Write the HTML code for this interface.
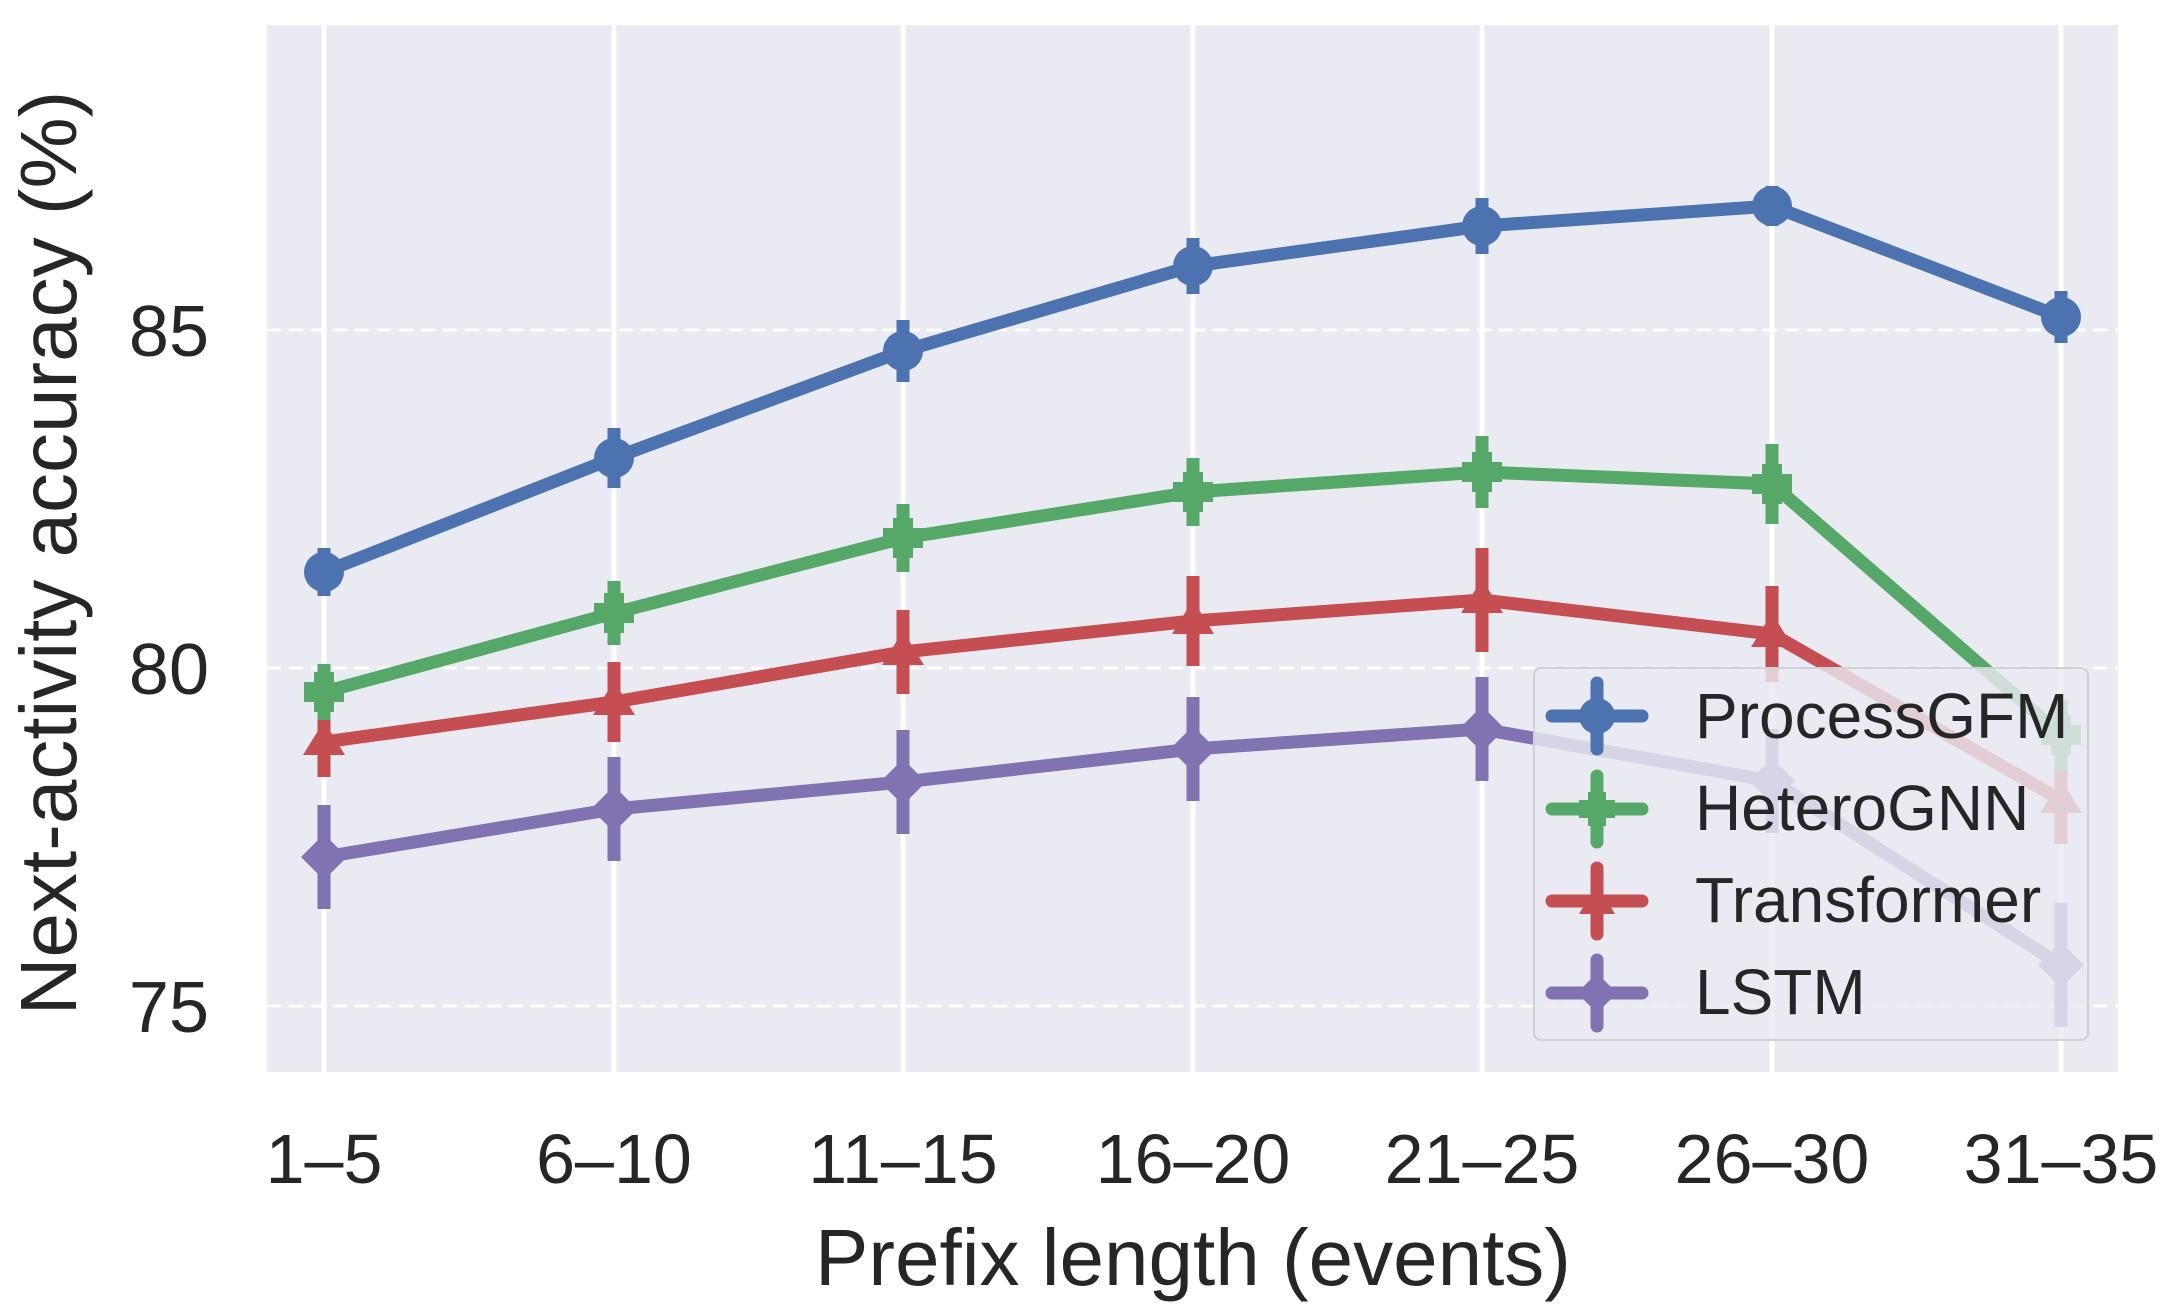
<!DOCTYPE html>
<html><head><meta charset="utf-8"><style>
html,body{margin:0;padding:0;background:#fff;}
svg{display:block;font-family:"Liberation Sans",Arial,sans-serif;}
</style></head><body>
<svg width="2171" height="1310" viewBox="0 0 2171 1310" xmlns="http://www.w3.org/2000/svg">
<rect x="267" y="25" width="1851" height="1047" fill="#eaeaf2"/>
<g stroke="#fff" stroke-width="5">
<line x1="324" y1="25" x2="324" y2="1072"/><line x1="614" y1="25" x2="614" y2="1072"/>
<line x1="903" y1="25" x2="903" y2="1072"/><line x1="1193" y1="25" x2="1193" y2="1072"/>
<line x1="1482" y1="25" x2="1482" y2="1072"/><line x1="1772" y1="25" x2="1772" y2="1072"/>
<line x1="2061" y1="25" x2="2061" y2="1072"/>
</g>
<g stroke="#fff" stroke-width="3" stroke-dasharray="14,8">
<line x1="267" y1="330" x2="2118" y2="330"/><line x1="267" y1="668" x2="2118" y2="668"/><line x1="267" y1="1006" x2="2118" y2="1006"/>
</g>
<g font-size="72" fill="#262626" text-anchor="end">
<text x="209" y="356">85</text><text x="209" y="694">80</text><text x="209" y="1032">75</text>
</g>
<g font-size="70" fill="#262626" text-anchor="middle">
<text x="324" y="1183">1–5</text><text x="614" y="1183">6–10</text><text x="903" y="1183">11–15</text>
<text x="1193" y="1183">16–20</text><text x="1482" y="1183">21–25</text><text x="1772" y="1183">26–30</text><text x="2061" y="1183">31–35</text>
</g>
<text x="1193" y="1285" font-size="80" fill="#262626" text-anchor="middle">Prefix length (events)</text>
<text transform="translate(76,553) rotate(-90)" font-size="80" fill="#262626" text-anchor="middle">Next-activity accuracy (%)</text>

<g stroke="#8172b2" stroke-width="13" fill="none">
<path d="M324 805V909M614 757V861M903 730V834M1193 697V801M1482 677V781M1772 729V833M2061 903V1027"/>
<polyline stroke-linejoin="round" points="324,857 614,809 903,782 1193,749 1482,729 1772,781 2061,965"/>
</g>
<g fill="#8172b2">
<path d="M324 834l23 23-23 23-23-23z"/><path d="M614 786l23 23-23 23-23-23z"/><path d="M903 759l23 23-23 23-23-23z"/>
<path d="M1193 726l23 23-23 23-23-23z"/><path d="M1482 706l23 23-23 23-23-23z"/><path d="M1772 758l23 23-23 23-23-23z"/><path d="M2061 942l23 23-23 23-23-23z"/>
</g>
<g stroke="#c44e52" stroke-width="13" fill="none">
<path d="M324 707V777M614 662V742M903 610V694M1193 576V666M1482 548V652M1772 586V682M2061 756V844"/>
<polyline stroke-linejoin="round" points="324,742 614,702 903,652 1193,621 1482,600 1772,634 2061,800"/>
</g>
<g fill="#c44e52">
<path d="M324 721l21 34h-42z"/><path d="M614 681l21 34h-42z"/><path d="M903 631l21 34h-42z"/>
<path d="M1193 600l21 34h-42z"/><path d="M1482 579l21 34h-42z"/><path d="M1772 613l21 34h-42z"/><path d="M2061 779l21 34h-42z"/>
</g>
<g stroke="#55a868" stroke-width="13" fill="none">
<path d="M324 664V720M614 581V645M903 504V572M1193 458V526M1482 436V508M1772 444V524M2061 700V770"/>
<polyline stroke-linejoin="round" points="324,692 614,613 903,538 1193,492 1482,472 1772,484 2061,735"/>
</g>
<g fill="#55a868">
<path d="M314 672h20v10h10v20h-10v10h-20v-10h-10v-20h10z"/><path d="M604 593h20v10h10v20h-10v10h-20v-10h-10v-20h10z"/>
<path d="M893 518h20v10h10v20h-10v10h-20v-10h-10v-20h10z"/><path d="M1183 472h20v10h10v20h-10v10h-20v-10h-10v-20h10z"/>
<path d="M1472 452h20v10h10v20h-10v10h-20v-10h-10v-20h10z"/><path d="M1762 464h20v10h10v20h-10v10h-20v-10h-10v-20h10z"/>
<path d="M2051 715h20v10h10v20h-10v10h-20v-10h-10v-20h10z"/>
</g>
<g stroke="#4c72b0" stroke-width="13" fill="none">
<path d="M324 548V596M614 428V488M903 320V382M1193 238V294M1482 198V254M1772 186V226M2061 291V343"/>
<polyline stroke-linejoin="round" points="324,572 614,458 903,351 1193,266 1482,226 1772,206 2061,317"/>
</g>
<g fill="#4c72b0">
<circle cx="324" cy="572" r="20"/><circle cx="614" cy="458" r="20"/><circle cx="903" cy="351" r="20"/>
<circle cx="1193" cy="266" r="20"/><circle cx="1482" cy="226" r="20"/><circle cx="1772" cy="206" r="20"/><circle cx="2061" cy="317" r="20"/>
</g>

<rect x="1534" y="668" width="554" height="372" rx="7" fill="#eaeaf2" fill-opacity="0.82" stroke="#cfcfd6" stroke-width="2"/>
<g stroke-width="13" stroke-linecap="round" fill="none">
<path stroke="#4c72b0" d="M1552 716H1642"/><path stroke="#4c72b0" d="M1597 683V749"/>
<path stroke="#55a868" d="M1552 809H1642"/><path stroke="#55a868" d="M1597 776V842"/>
<path stroke="#c44e52" d="M1552 901H1642"/><path stroke="#c44e52" d="M1597 868V934"/>
<path stroke="#8172b2" d="M1552 993H1642"/><path stroke="#8172b2" d="M1597 960V1026"/>
</g>
<circle cx="1597" cy="716" r="18" fill="#4c72b0"/>
<path fill="#55a868" d="M1588 792h18v8h9v18h-9v8h-18v-8h-9v-18h9z"/>
<path fill="#c44e52" d="M1597 884l18 30h-36z"/>
<path fill="#8172b2" d="M1597 973l20 20-20 20-20-20z"/>
<g font-size="64" fill="#262626">
<text x="1695" y="738">ProcessGFM</text><text x="1695" y="830">HeteroGNN</text>
<text x="1695" y="922">Transformer</text><text x="1695" y="1014">LSTM</text>
</g>
</svg>
</body></html>
